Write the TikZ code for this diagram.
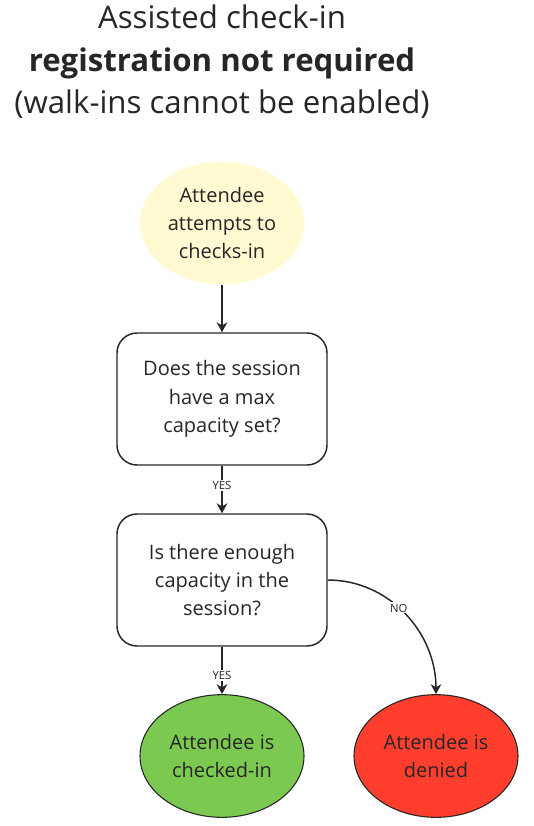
\documentclass[tikz,border=0pt]{standalone}
\usepackage{fontspec}
\setmainfont{Open Sans}
\usetikzlibrary{arrows.meta}
\usetikzlibrary{shapes}

\definecolor{inkgray}{RGB}{38,38,38}
\definecolor{startyellow}{RGB}{255,250,209}
\definecolor{okgreen}{RGB}{124,201,81}
\definecolor{denyred}{RGB}{255,62,45}

\tikzset{
  flowtext/.style={align=center, text=inkgray, font=\fontsize{15}{21.3}\selectfont},
  question/.style={flowtext, draw=inkgray, line width=1.1pt, rounded corners=15pt,
    minimum width=157.5pt, minimum height=99pt, inner sep=0pt},
  terminal/.style={flowtext, ellipse, minimum width=123pt, minimum height=92pt, inner sep=0pt},
  flow/.style={draw=inkgray, line width=1.1pt, -{Stealth[length=7.5pt,width=8pt]}},
  answer/.style={fill=white, text=inkgray, inner sep=1pt, font=\fontsize{8.5}{10}\selectfont}
}

\begin{document}
\begin{tikzpicture}[x=0.75pt,y=0.75pt,yscale=-1,xscale=1]
\useasboundingbox (0,0) rectangle (533,826);

% Title
\node [anchor=base, text=inkgray, font=\fontsize{23.4}{28}\selectfont] (title1) at (222,28) {Assisted check-in};
\node [anchor=base, text=inkgray, font=\fontsize{23.4}{28}\selectfont\bfseries] (title2) at (222,71) {registration not required};
\node [anchor=base, text=inkgray, font=\fontsize{23.4}{28}\selectfont] (title3) at (222,113) {(walk-ins cannot be enabled)};

% Shapes
\node [terminal, fill=startyellow] (attempt) at (222,223) {Attendee\\attempts to\\checks-in};
\node [question] (maxcap) at (222,399) {Does the session\\have a max\\capacity set?};
\node [question] (enough) at (222,580) {Is there enough\\capacity in the\\session?};
\node [terminal, draw=inkgray, line width=0.8pt, fill=okgreen] (checkedin) at (222,756) {Attendee is\\checked-in};
\node [terminal, draw=inkgray, line width=0.8pt, fill=denyred] (denied) at (436,756) {Attendee is\\denied};

% Connectors
\draw [flow] (attempt) -- (maxcap);
\draw [flow] (maxcap) -- node [answer, pos=0.42] {YES} (enough);
\draw [flow] (enough) -- node [answer, pos=0.6] {YES} (checkedin);
\draw [flow] (enough.east) to [out=0, in=-90] node [answer, pos=0.45] {NO} (denied.north);

\end{tikzpicture}
\end{document}
